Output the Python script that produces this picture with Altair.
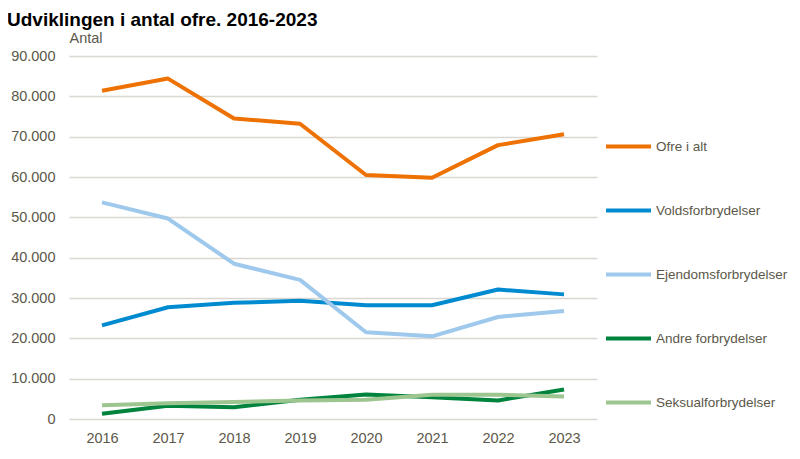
import altair as alt
import pandas as pd

years = ["2016", "2017", "2018", "2019", "2020", "2021", "2022", "2023"]
series_names = ["Ofre i alt", "Voldsforbrydelser", "Ejendomsforbrydelser",
                "Andre forbrydelser", "Seksualforbrydelser"]
ofre = [81400, 84400, 74500, 73200, 60500, 59800, 67900, 70600]
volds = [23200, 27700, 28800, 29300, 28200, 28200, 32100, 30900]
ejendoms = [53700, 49700, 38500, 34500, 21500, 20500, 25300, 26800]
andre = [1300, 3300, 2900, 4800, 6100, 5400, 4600, 7300]
seksual = [3400, 3900, 4200, 4600, 4800, 6000, 6000, 5600]
colors = ["#EE7203", "#008BD0", "#9FC9EC", "#00843D", "#9DC58F"]
y_ticks = [0, 10000, 20000, 30000, 40000, 50000, 60000, 70000, 80000, 90000]

values = [ofre, volds, ejendoms, andre, seksual]
rows = []
for i, name in enumerate(series_names):
    for yr, v in zip(years, values[i]):
        rows.append({"year": yr, "series": name, "value": v, "order": i})
df = pd.DataFrame(rows)

TXT = "#5B5849"
FONT = "Liberation Sans"

chart = alt.Chart(df).mark_line(strokeWidth=4, strokeJoin="round").encode(
    x=alt.X("year:O", scale=alt.Scale(type="point", padding=0.5),
            axis=alt.Axis(title=None, labelAngle=0, ticks=False, domain=False,
                          labelPadding=12, labelFontSize=14.5, labelFont=FONT,
                          labelColor=TXT)),
    y=alt.Y("value:Q", scale=alt.Scale(domain=[0, 90000], nice=False),
            axis=alt.Axis(title="Antal", values=y_ticks, format=",d",
                          titleAngle=0, titleX=0, titleY=-14, titleAlign="left",
                          titleBaseline="alphabetic", titleFont=FONT,
                          titleFontSize=14.5, titleFontWeight="normal", titleColor=TXT,
                          labelFont=FONT, labelFontSize=14.5, labelColor=TXT,
                          labelPadding=14, ticks=False, domain=False,
                          gridColor="#D9D8D0", gridWidth=1.5)),
    color=alt.Color("series:N",
                    scale=alt.Scale(domain=series_names, range=colors),
                    legend=alt.Legend(title=None, orient="none", legendX=535,
                                      legendY=66, symbolType="stroke",
                                      symbolSize=2025, symbolStrokeWidth=4,
                                      rowPadding=31, labelOffset=3,
                                      labelFont=FONT, labelFontSize=13.5,
                                      labelColor=TXT, padding=0)),
    order=alt.Order("order:Q", sort="descending"),
).properties(
    width=528,
    height=363,
    padding={"left": 61, "top": 48, "right": 195, "bottom": 32},
    autosize=alt.AutoSizeParams(type="none"),
    title=alt.TitleParams("Udviklingen i antal ofre. 2016-2023", anchor="start",
                          frame="group", dx=-62, dy=15, font="Liberation Sans",
                          fontSize=19, fontWeight="bold", color="#000000",
                          baseline="alphabetic", offset=0),
).configure(
    locale={"number": {"decimal": ",", "thousands": ".", "grouping": [3],
                       "currency": ["", " kr."]}}
).configure_view(stroke=None)

chart.save("out.html", embed_options={"renderer": "svg", "actions": False})
